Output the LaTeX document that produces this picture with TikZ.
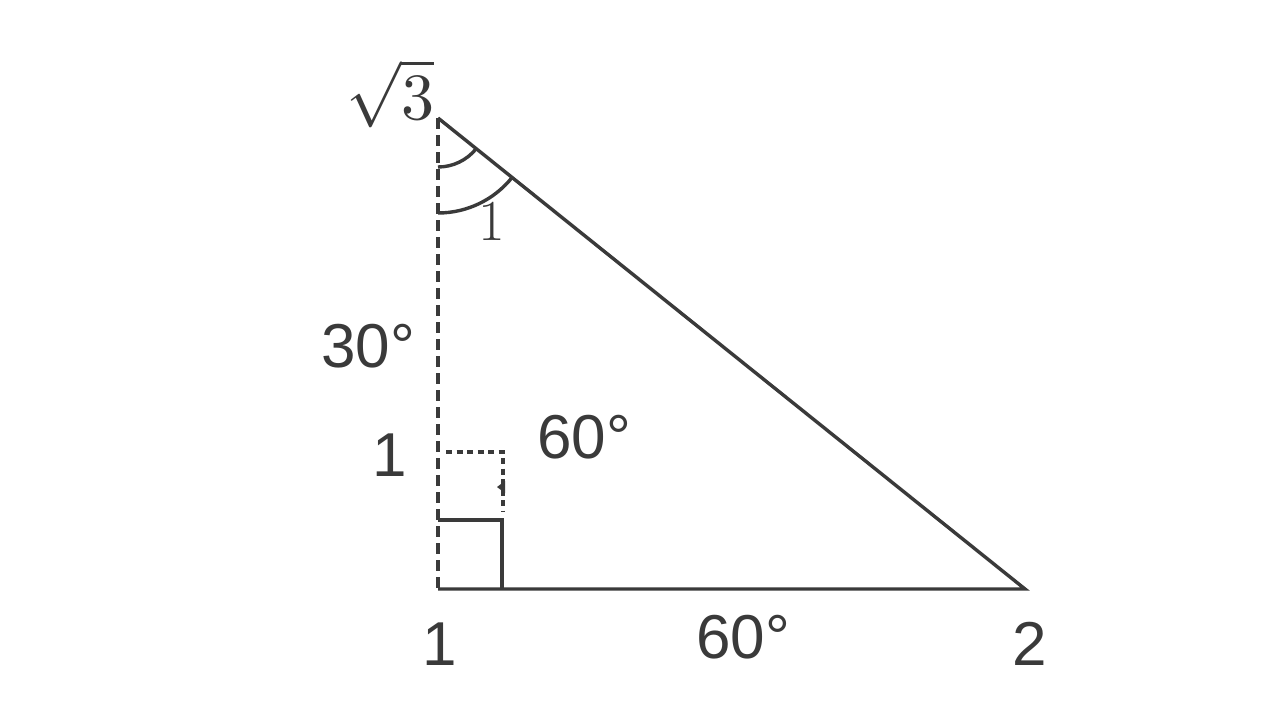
\documentclass[tikz,border=0pt]{standalone}
\usepackage{fontspec}
\newfontfamily\lab{Liberation Sans}
\begin{document}
\begin{tikzpicture}[x=1pt,y=-1pt,
  ln/.style={line width=3.4pt,draw=ink},
  dashln/.style={line width=3.4pt,draw=ink,dash pattern=on 11pt off 6pt},
  dotln/.style={line width=3.2pt,draw=ink,dash pattern=on 6pt off 4.5pt},
  lbl/.style={text=ink,font=\lab\fontsize{62}{62}\selectfont,inner sep=0pt},
  ser/.style={text=ink,inner sep=0pt}]
\definecolor{ink}{HTML}{3A3A3A}
\useasboundingbox[fill=white] (0,0) rectangle (1280,720);
\coordinate (A) at (438,118);
\coordinate (B) at (438,589);
\coordinate (C) at (1025,589);
% sides
\draw[dashln] (A) -- (B);
\draw[ln] (B) -- (C) -- (A);
% right angle square
\coordinate (R1) at (438,520);
\coordinate (R2) at (502,520);
\coordinate (R3) at (502,589);
\draw[ln] (R1) -- (R2) -- (R3);
% dotted square
\coordinate (D1) at (446,452);
\coordinate (D2) at (503,452);
\coordinate (D3) at (503,512);
\draw[dotln] (D1) -- (D2) -- (D3);
\coordinate (T1) at (497,487);
\fill[ink] (T1) -- ++(8,-6) -- ++(0,12) -- cycle;
% angle arcs
\draw[ln] (438,167) arc[start angle=90,end angle=38.7,radius=49];
\draw[ln] (438,213) arc[start angle=90,end angle=38.7,radius=95];
% labels
\node[ser,scale=6.6] (s3) at (390,94) {$\sqrt{3}$};
\node[ser,font=\fontsize{58}{58}\selectfont] (a1) at (492,221) {1};
\node[lbl] (l30) at (368,346) {30°};
\node[lbl] (l1a) at (390,455) {1};
\node[lbl] (l60a) at (584,437) {60°};
\node[lbl] (l1b) at (440,644) {1};
\node[lbl] (l60b) at (743,637) {60°};
\node[lbl] (l2) at (1030,644) {2};
\end{tikzpicture}
\end{document}
